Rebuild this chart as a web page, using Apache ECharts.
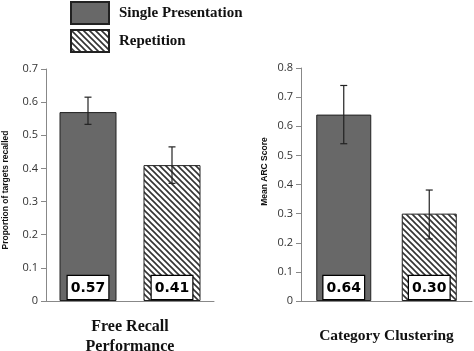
<!DOCTYPE html>
<html>
<head>
<meta charset="utf-8">
<script src="https://cdn.jsdelivr.net/npm/echarts@6/dist/echarts.min.js"></script>
<style>
  html, body { margin: 0; padding: 0; background: #fff; }
  #main { width: 474px; height: 351px; }
</style>
</head>
<body>
<div id="main"></div>
<script>
// data
const conditions = ['Single Presentation', 'Repetition']
const singleVals = [0.57, 0.64]      // free recall, clustering
const repVals = [0.41, 0.30]
const singleLow = [0.533, 0.54]
const singleHigh = [0.615, 0.74]
const repLow = [0.355, 0.213]
const repHigh = [0.465, 0.381]
const yMax = [0.7, 0.8]

// diagonal hatch for the repetition bars
function hatch() {
    let c = document.createElement('canvas')
    c.width = c.height = 6
    let g = c.getContext('2d')
    g.fillStyle = '#fff'
    g.fillRect(0, 0, 6, 6)
    g.strokeStyle = '#333'
    g.lineWidth = 1.6
    g.beginPath()
    g.moveTo(-1, -1); g.lineTo(7, 7)
    g.moveTo(-1, 5); g.lineTo(1, 7)
    g.moveTo(5, -1); g.lineTo(7, 1)
    g.stroke()
    return c
}
const hatchFill = { image: hatch(), repeat: 'repeat' }

let myChart = echarts.init(document.getElementById('main'))

const valueLabel = {
    show: true,
    position: 'insideBottom',
    distance: 2,
    formatter: p => p.value.toFixed(2),
    fontFamily: 'DejaVu Sans',
    fontWeight: 'bold',
    fontSize: 14,
    color: '#000',
    backgroundColor: '#fff',
    borderColor: '#000',
    borderWidth: 1.2,
    padding: [5, 3, 4, 3]
}

function errorSeries(idx, low, high) {
    return {
        type: 'custom',
        xAxisIndex: idx,
        yAxisIndex: idx,
        z: 5,
        data: [[0, low[0], high[0]], [1, low[1], high[1]]],
        encode: { x: 0, y: [1, 2] },
        renderItem: function (params, api) {
            let x = api.value(0)
            let lo = api.coord([x, api.value(1)])
            let hi = api.coord([x, api.value(2)])
            let w = 3.5
            let st = { stroke: '#222', lineWidth: 1.2 }
            return {
                type: 'group',
                children: [
                    { type: 'line', shape: { x1: lo[0], y1: lo[1], x2: hi[0], y2: hi[1] }, style: st },
                    { type: 'line', shape: { x1: lo[0] - w, y1: lo[1], x2: lo[0] + w, y2: lo[1] }, style: st },
                    { type: 'line', shape: { x1: hi[0] - w, y1: hi[1], x2: hi[0] + w, y2: hi[1] }, style: st }
                ]
            }
        }
    }
}

const axisNames = ['Free Recall\nPerformance', 'Category Clustering']
const yNames = ['Proportion of targets recalled', 'Mean ARC Score']

let option = {
    animation: false,
    legend: {
        orient: 'vertical',
        left: 70,
        top: 1,
        padding: 0,
        itemWidth: 38,
        itemHeight: 22,
        itemGap: 4,
        icon: 'rect',
        data: conditions,
        textStyle: {
            fontFamily: 'Liberation Serif',
            fontWeight: 'bold',
            fontSize: 15,
            color: '#111',
            padding: [0, 0, 0, 5]
        }
    },
    grid: [
        { left: 46, right: 260, top: 69, bottom: 50, outerBoundsMode: 'none' },
        { left: 301, right: 2, top: 68, bottom: 50, outerBoundsMode: 'none' }
    ],
    xAxis: [0, 1].map(i => ({
        type: 'category',
        gridIndex: i,
        data: conditions,
        name: axisNames[i],
        nameLocation: 'middle',
        nameGap: i === 0 ? 16 : 25,
        nameTextStyle: {
            fontFamily: 'Liberation Serif',
            fontWeight: 'bold',
            fontSize: i === 0 ? 16 : 15.5,
            color: '#111',
            lineHeight: 20
        },
        axisLine: { lineStyle: { color: '#888' } },
        axisTick: { length: 5, lineStyle: { color: '#888' } },
        axisLabel: { show: false }
    })),
    yAxis: [0, 1].map(i => ({
        type: 'value',
        gridIndex: i,
        min: 0,
        max: yMax[i],
        interval: 0.1,
        name: yNames[i],
        nameLocation: 'middle',
        nameGap: i === 0 ? 36 : 32,
        nameTextStyle: {
            fontFamily: 'Liberation Sans',
            fontWeight: 'bold',
            fontSize: 8.5,
            color: '#111',
            padding: i === 0 ? [0, 10, 0, 0] : [0, 0, 0, 26]
        },
        splitLine: { show: false },
        axisLine: { show: true, lineStyle: { color: '#888' } },
        axisTick: { show: true, length: 5, lineStyle: { color: '#888' } },
        axisLabel: {
            fontFamily: 'Open Sans',
            fontSize: 11,
            color: '#333',
            margin: 8,
            formatter: v => (v === 0 ? '0' : v.toFixed(1))
        }
    })),
    series: [
        {
            name: conditions[0], type: 'bar', xAxisIndex: 0, yAxisIndex: 0,
            barWidth: 57, barGap: '-100%',
            data: [singleVals[0], '-'],
            itemStyle: { color: '#686868', borderColor: '#222', borderWidth: 1 },
            label: valueLabel
        },
        {
            name: conditions[1], type: 'bar', xAxisIndex: 0, yAxisIndex: 0,
            barWidth: 57, barGap: '-100%',
            data: ['-', repVals[0]],
            itemStyle: { color: hatchFill, borderColor: '#222', borderWidth: 1 },
            label: valueLabel
        },
        {
            name: conditions[0], type: 'bar', xAxisIndex: 1, yAxisIndex: 1,
            barWidth: 55, barGap: '-100%',
            data: [singleVals[1], '-'],
            itemStyle: { color: '#686868', borderColor: '#222', borderWidth: 1 },
            label: valueLabel
        },
        {
            name: conditions[1], type: 'bar', xAxisIndex: 1, yAxisIndex: 1,
            barWidth: 55, barGap: '-100%',
            data: ['-', repVals[1]],
            itemStyle: { color: hatchFill, borderColor: '#222', borderWidth: 1 },
            label: valueLabel
        },
        errorSeries(0, [singleLow[0], repLow[0]], [singleHigh[0], repHigh[0]]),
        errorSeries(1, [singleLow[1], repLow[1]], [singleHigh[1], repHigh[1]])
    ]
}

myChart.setOption(option)
</script>
</body>
</html>
